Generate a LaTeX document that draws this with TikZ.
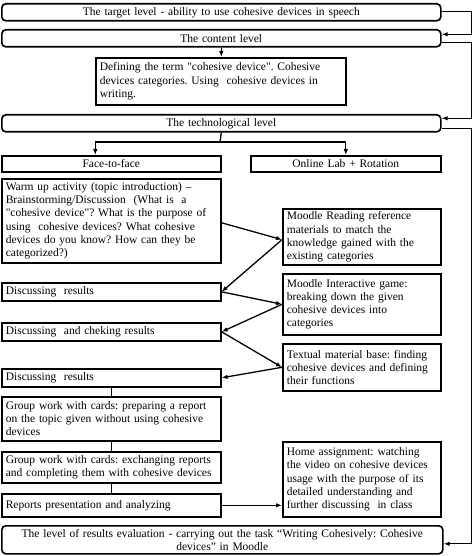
\documentclass[tikz,border=0pt]{standalone}
\usepackage{fontspec}
\setmainfont{Liberation Serif}
\usetikzlibrary{arrows.meta,calc}
\frenchspacing
\newcommand{\qq}{\textquotedbl}
\tikzset{
  bx/.style={draw, line width=1.6pt, anchor=north west, inner xsep=4pt, inner ysep=1pt,
    font=\fontsize{11.5}{13.2}\selectfont, align=left},
  rbx/.style={bx, rounded corners=4pt, align=center},
  cbx/.style={bx, align=center},
  ln/.style={line width=1.3pt},
  arr/.style={ln, -{Latex[length=6pt,width=4.5pt]}},
}
\begin{document}
\begin{tikzpicture}[x=1pt,y=-1pt]
\useasboundingbox (0,0) rectangle (474,556);
\node[rbx, minimum width=439pt, minimum height=17pt, text width=431pt] (target) at (1,3) {The target level - ability to use cohesive devices in speech};
\node[rbx, minimum width=439pt, minimum height=17pt, text width=431pt] (content) at (1,29) {The content level};
\node[bx, minimum width=250pt, minimum height=47pt, text width=242pt] (defn) at (95,57) {Defining the term \qq cohesive device\qq. Cohesive\\devices categories. Using\ \ cohesive devices in\\writing.};
\node[rbx, minimum width=439pt, minimum height=17pt, text width=431pt] (tech) at (1,114) {The technological level};
\node[cbx, minimum width=219pt, minimum height=16pt, text width=211pt] (f2f) at (1,155) {Face-to-face};
\node[cbx, minimum width=190pt, minimum height=16pt, text width=182pt] (online) at (250,155) {Online Lab + Rotation};
\node[bx, minimum width=219pt, minimum height=84pt, text width=211pt] (warm) at (1,178) {Warm up activity (topic introduction) --\\Brainstorming/Discussion\ \ (What is\ \ a\\\qq cohesive device\qq? What is the purpose of\\using\ \ cohesive devices? What cohesive\\devices do you know? How can they be\\categorized?)};
\node[bx, minimum width=158pt, minimum height=56pt, text width=150pt] (mread) at (282,208) {Moodle Reading reference\\materials to match the\\knowledge gained with the\\existing categories};
\node[bx, minimum width=219pt, minimum height=18pt, text width=211pt] (dr1) at (1,282) {Discussing\ \ results};
\node[bx, minimum width=158pt, minimum height=61pt, text width=150pt] (minter) at (282,273) {Moodle Interactive game:\\breaking down the given\\cohesive devices into\\categories};
\node[bx, minimum width=219pt, minimum height=18pt, text width=211pt] (dcheck) at (1,322) {Discussing\ \ and cheking results};
\node[bx, minimum width=158pt, minimum height=47pt, text width=150pt] (textual) at (282,343) {Textual material base: finding\\cohesive devices and defining\\their functions};
\node[bx, minimum width=219pt, minimum height=18pt, text width=211pt] (dr2) at (1,368) {Discussing\ \ results};
\node[bx, minimum width=219pt, minimum height=44pt, text width=211pt] (gw1) at (1,396) {Group work with cards: preparing a report\\on the topic given without using cohesive\\devices};
\node[bx, minimum width=219pt, minimum height=31pt, text width=211pt] (gw2) at (1,451) {Group work with cards: exchanging reports\\and completing them with cohesive devices};
\node[bx, minimum width=219pt, minimum height=23pt, text width=211pt] (rep) at (1,493) {Reports presentation and analyzing};
\node[bx, minimum width=158pt, minimum height=75pt, text width=150pt] (home) at (282,441) {Home assignment: watching\\the video on cohesive devices\\usage with the purpose of its\\detailed understanding and\\further discussing\ \ in class};
\node[rbx, minimum width=441pt, minimum height=28pt, text width=433pt] (final) at (1,525) {The level of results evaluation - carrying out the task “Writing Cohesively: Cohesive\\devices” in Moodle};
% right side connectors
\draw[arr] ([yshift=1pt]target.east) -- ++(30,0) |- ([yshift=4pt]content.east);
\draw[arr] ([yshift=-4pt]content.east) -- ++(30,0) |- ([yshift=5pt]tech.east);
\draw[arr] ([yshift=-5pt]tech.east) -- ++(30,0) |- ([yshift=-4pt]final.east);
% content -> definition
\draw[arr] (content.south) -- (content.south |- defn.north);
% tech split
\coordinate (split) at (220,142);
\draw[ln] (tech.south) -- (split);
\draw[arr] (split) -| ([xshift=-16pt]f2f.north);
\draw[arr] (split) -| (online.north);
% zigzag
\coordinate (mr) at ($(mread.north west)!0.55!(mread.south west)$);
\draw[arr] ([yshift=-2pt]warm.east) -- (mr);
\draw[arr] (mr) -- (dr1.east);
\draw[arr] (dr1.east) -- (minter.west);
\draw[arr] (minter.west) -- (dcheck.east);
\draw[arr] (dcheck.east) -- (textual.west);
\draw[arr] (textual.west) -- (dr2.east);
\draw[arr] (rep.east) -- (rep.east -| home.west);
% left chain
\draw[ln] (dr2.south) -- (gw1.north);
\draw[ln] (gw1.south) -- (gw2.north);
\draw[ln] (gw2.south) -- (rep.north);
\end{tikzpicture}
\end{document}
